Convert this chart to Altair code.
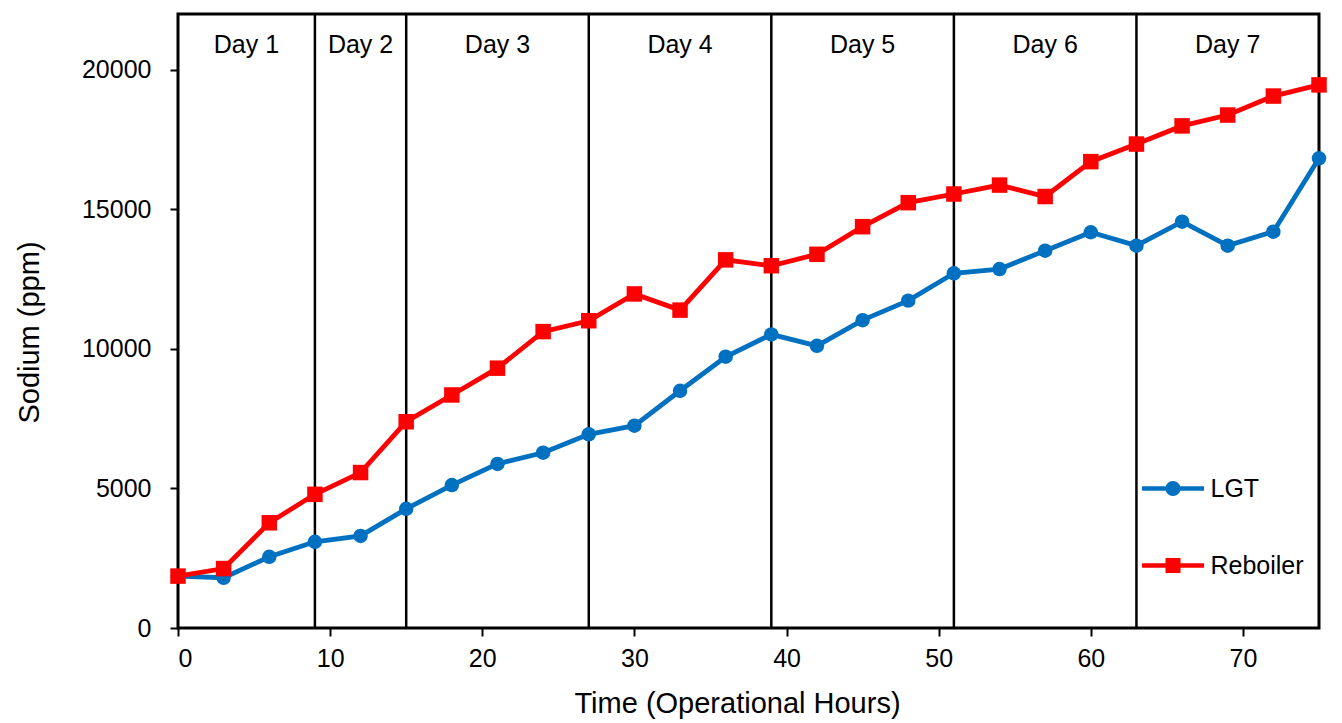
import altair as alt
import pandas as pd

FONT = "Liberation Sans"

# ---- data ----
hours = [0, 3, 6, 9, 12, 15, 18, 21, 24, 27, 30, 33, 36, 39, 42, 45, 48, 51, 54, 57, 60, 63, 66, 69, 72, 75]
lgt = [1860, 1800, 2550, 3090, 3300, 4270, 5120, 5880, 6280, 6940, 7250, 8500, 9720, 10520,
       10110, 11030, 11730, 12710, 12860, 13520, 14180, 13700, 14560, 13700, 14200, 16830]
reboiler = [1860, 2130, 3770, 4790, 5570, 7390, 8350, 9310, 10620, 11010, 11970, 11390, 13190, 12980,
            13390, 14380, 15240, 15550, 15870, 15460, 16710, 17340, 17990, 18380, 19060, 19460]
series_names = ["LGT", "Reboiler"]
series_colors = ["#0070C0", "#FF0000"]
day_bounds = [0, 9, 15, 27, 39, 51, 63, 75]
day_labels = ["Day 1", "Day 2", "Day 3", "Day 4", "Day 5", "Day 6", "Day 7"]
day_label_level = 20600
x_ticks = [0, 10, 20, 30, 40, 50, 60, 70]
y_ticks = [0, 5000, 10000, 15000, 20000]

# ---- tables ----
df = pd.DataFrame({
    "t": hours * 2,
    "v": lgt + reboiler,
    "series": [series_names[0]] * len(hours) + [series_names[1]] * len(hours),
})
rules_df = pd.DataFrame({"t": day_bounds[1:-1]})
text_df = pd.DataFrame({
    "t": [(a + b) / 2 for a, b in zip(day_bounds[:-1], day_bounds[1:])],
    "v": [day_label_level] * len(day_labels),
    "label": day_labels,
})

xs = alt.Scale(domain=[0, 75], nice=False, zero=False)
ys = alt.Scale(domain=[0, 22000], nice=False)
xaxis = alt.Axis(values=x_ticks, title="Time (Operational Hours)", labelPadding=10,
                 titleX=559, titleY=84, titleAlign="center", titleBaseline="alphabetic")
yaxis = alt.Axis(values=y_ticks, format="d", title="Sodium (ppm)", labelPadding=19,
                 titleX=-140, titleY=318, titleAngle=270, titleAlign="center",
                 titleBaseline="alphabetic")
X = alt.X("t:Q", scale=xs, axis=xaxis)
Y = alt.Y("v:Q", scale=ys, axis=yaxis)
cscale = alt.Scale(domain=series_names, range=series_colors)

lgt_path = ("M-4.13,-0.3 H4.13 V0.3 H-4.13 Z "
            "M-1,0 A1,1 0 1,1 1,0 A1,1 0 1,1 -1,0 Z")
reb_path = ("M-4.13,-0.3 H4.13 V0.3 H-4.13 Z "
            "M-1,-1 H1 V1 H-1 Z")
sscale = alt.Scale(domain=series_names, range=[lgt_path, reb_path])

legend = alt.Legend(title=None, orient="none", legendX=982.5, legendY=462,
                    padding=0, symbolSize=225, symbolStrokeWidth=0, symbolOpacity=1,
                    labelFont=FONT, labelFontSize=25, labelColor="black",
                    labelOffset=25, rowPadding=51)

rules = alt.Chart(rules_df).mark_rule(color="black", strokeWidth=2.5).encode(x=X)

days = alt.Chart(text_df).mark_text(font=FONT, fontSize=25, color="black",
                                     baseline="alphabetic", align="center").encode(
    x=X, y=Y, text="label:N")


def series_layers(name, color, shape, size):
    sub = alt.Chart(df).transform_filter(alt.datum.series == name)
    ln = sub.mark_line(strokeWidth=4.8, color=color).encode(x=X, y=Y)
    pt = sub.mark_point(shape=shape, filled=True, size=size, opacity=1, color=color).encode(x=X, y=Y)
    return [ln, pt]


layers_lgt = series_layers(series_names[0], series_colors[0], "circle", 210)
layers_reb = series_layers(series_names[1], series_colors[1], "square", 240)

legend_layer = alt.Chart(df).mark_point(filled=True, size=0, opacity=1).encode(
    x=X, y=Y,
    color=alt.Color("series:N", scale=cscale, legend=legend),
    shape=alt.Shape("series:N", scale=sscale, legend=legend),
)

chart = alt.layer(rules, days, *layers_lgt, *layers_reb, legend_layer).properties(
    width=1141, height=614,
    autosize=alt.AutoSizeParams(type="none"),
    padding={"left": 170, "top": 6, "right": 15, "bottom": 95},
).configure_view(stroke="black", strokeWidth=3).configure_axis(
    labelFont=FONT, labelFontSize=25, labelColor="black",
    titleFont=FONT, titleFontSize=29, titleFontWeight="normal", titleColor="black",
    tickColor="black", tickWidth=2, tickSize=8, grid=False, domain=False,
)

chart.save("out.html", embed_options={"renderer": "svg", "actions": False})
